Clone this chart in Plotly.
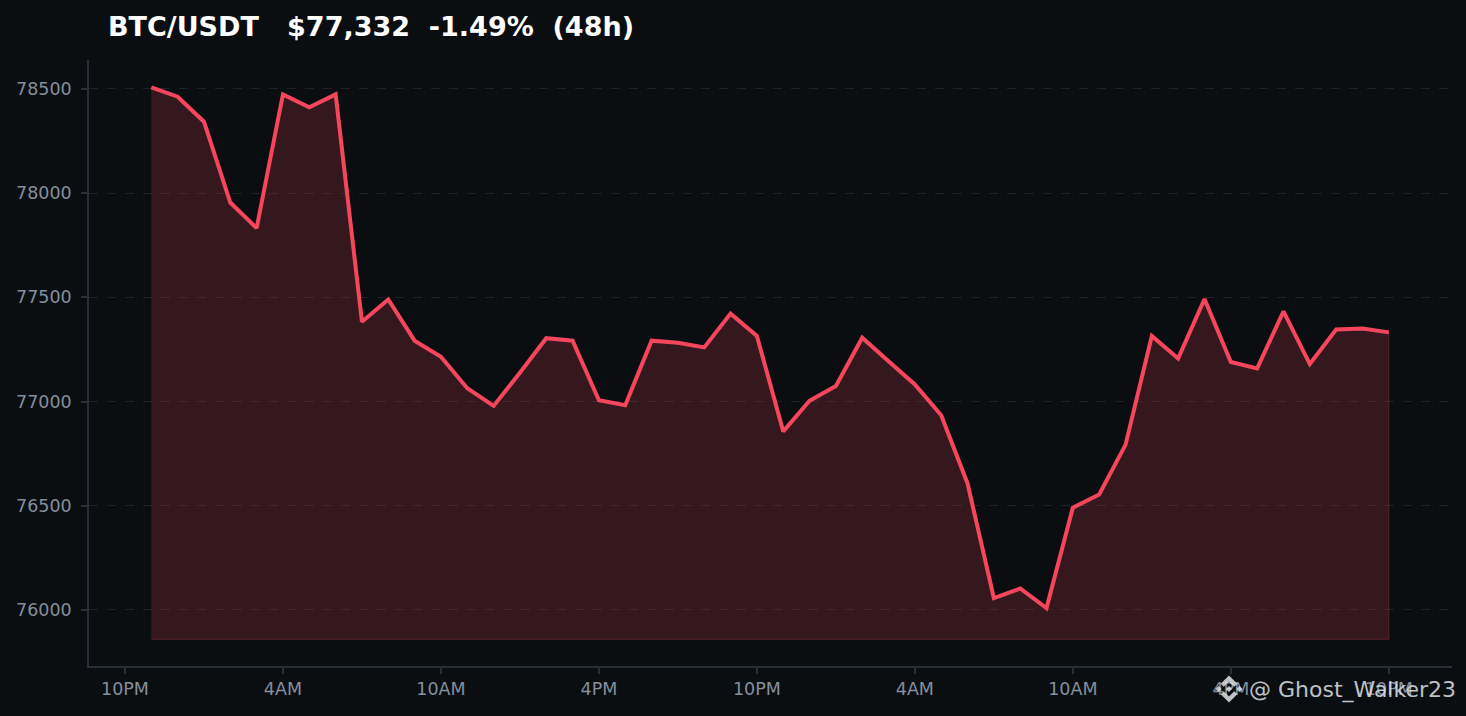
import pandas as pd
import plotly.graph_objects as go

# hourly closes, 11PM day 1 -> 10PM day 3
start = "2025-11-21 23:00"
prices = [
    78508, 78463, 78343, 77955, 77832, 78474, 78412, 78474, 77383, 77490,
    77292, 77215, 77064, 76979, 77138, 77304, 77292, 77006, 76982, 77292,
    77282, 77260, 77422, 77315, 76857, 77004, 77075, 77306, 77193, 77082,
    76934, 76607, 76057, 76103, 76009, 76491, 76554, 76792, 77315, 77207,
    77492, 77190, 77159, 77433, 77180, 77346, 77350, 77332,
]
y_ticks = [76000, 76500, 77000, 77500, 78000, 78500]
x_tick_times = ["2025-11-21 22:00", "2025-11-22 04:00", "2025-11-22 10:00",
                "2025-11-22 16:00", "2025-11-22 22:00", "2025-11-23 04:00",
                "2025-11-23 10:00", "2025-11-23 16:00", "2025-11-23 22:00"]
title_txt = "BTC/USDT   $77,332  -1.49%  (48h)"
watermark = "@ Ghost_Walker23"

times = list(pd.date_range(start, periods=len(prices), freq="h"))
base = min(prices) - 150

BG = "#0b0e11"
RED = "#f6465d"
GREY = "#848e9c"
SPINE = "#2b2f36"
WM = "rgba(225,228,232,0.85)"

# plot area in pixels (matches margins below)
L, R, T, B = 89, 1452, 60, 666


def px(x, y):
    return (x - L) / (R - L), (B - y) / (B - T)


def logo_path(cx, cy, size):
    # binance-ish mark, drawn in a 126.6 unit box
    polys = [
        [(38.7, 53.2), (63.3, 28.6), (87.9, 53.2), (102.2, 38.9), (63.3, 0), (24.4, 38.9)],
        [(38.7, 73.4), (63.3, 98.0), (87.9, 73.4), (102.2, 87.7), (63.3, 126.6), (24.4, 87.7)],
        [(0, 63.3), (14.3, 49.0), (28.6, 63.3), (14.3, 77.6)],
        [(98.0, 63.3), (112.3, 49.0), (126.6, 63.3), (112.3, 77.6)],
        [(77.8, 63.3), (63.3, 48.8), (48.8, 63.3), (63.3, 77.8)],
    ]
    k = size / 126.6
    out = ""
    for poly in polys:
        pts = [px(cx + (a - 63.3) * k, cy + (b - 63.3) * k) for a, b in poly]
        out += "M" + " L".join(f"{x:.5f},{y:.5f}" for x, y in pts) + " Z "
    return out


fig = go.Figure()
# filled area between price and baseline
fig.add_trace(go.Scatter(
    x=times + times[::-1], y=prices + [base] * len(prices),
    fill="toself", fillcolor="rgba(246,70,93,0.18)",
    line=dict(color="rgba(246,70,93,0.28)", width=1),
    mode="lines", hoverinfo="skip", showlegend=False,
))
fig.add_trace(go.Scatter(
    x=times, y=prices, mode="lines",
    line=dict(color=RED, width=4), showlegend=False,
))

wx, wy = px(1458, 690)
fig.update_layout(
    width=1466, height=716,
    paper_bgcolor=BG, plot_bgcolor=BG,
    margin=dict(l=L, r=1466 - R, t=T, b=716 - B),
    font=dict(family="DejaVu Sans", color=GREY, size=17.5),
    title=dict(text="<b>" + title_txt + "</b>", x=108 / 1466, xanchor="left",
               y=1 - 27 / 716, yanchor="middle",
               font=dict(size=27, color="#ffffff", family="DejaVu Sans")),
    annotations=[dict(
        text=watermark, xref="paper", yref="paper", x=wx, y=wy,
        xanchor="right", yanchor="middle", showarrow=False,
        font=dict(size=22, color=WM, family="DejaVu Sans"),
    )],
    shapes=[dict(type="path", xref="paper", yref="paper",
                 path=logo_path(1229, 689, 27), fillcolor=WM, line=dict(width=0))],
)
fig.update_xaxes(
    range=["2025-11-21 20:38", "2025-11-24 00:24"],
    tickvals=x_tick_times, tickformat="%-I%p",
    showgrid=False, zeroline=False,
    showline=True, linecolor=SPINE, linewidth=1.5,
    ticks="outside", ticklen=6, tickwidth=1.5, tickcolor=SPINE,
    tickfont=dict(size=17.5, color=GREY),
)
fig.update_yaxes(
    range=[75731, 78639], tickvals=y_ticks, tickformat="d",
    showgrid=True, gridcolor="#1f2328", griddash="dash", gridwidth=1,
    zeroline=False,
    showline=True, linecolor=SPINE, linewidth=1.5,
    ticks="outside", ticklen=6, tickwidth=1.5, tickcolor=SPINE,
    tickfont=dict(size=17.5, color=GREY), ticklabelstandoff=6,
)

fig.write_html("out.html", config={"displayModeBar": False},
               post_script="document.body.style.margin='0';"
               "document.body.style.background='#0b0e11';")
